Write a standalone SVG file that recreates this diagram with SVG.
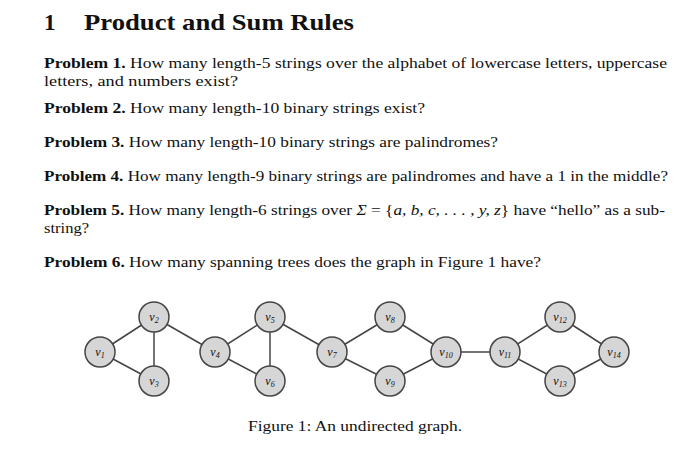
<svg xmlns="http://www.w3.org/2000/svg" width="700" height="463" viewBox="0 0 700 463">
<style>
text{font-family:"Liberation Serif","DejaVu Serif",serif;fill:#111}
.p{font-size:15px}
.b{font-weight:bold}
.n circle{fill:#d6d6d6;stroke:#444;stroke-width:1.5}
.n text{font-size:12px;font-style:italic;text-anchor:middle}
.e line{stroke:#444;stroke-width:1.5}
</style>
<rect width="700" height="463" fill="#fff"/>
<text x="44" y="30" font-size="23" class="b">1</text>
<text x="84" y="30" font-size="23" class="b" textLength="270" lengthAdjust="spacingAndGlyphs">Product and Sum Rules</text>
<text x="44" y="68" class="p" textLength="623" lengthAdjust="spacingAndGlyphs"><tspan class="b">Problem 1.</tspan> How many length-5 strings over the alphabet of lowercase letters, uppercase</text>
<text x="44" y="86" class="p" textLength="194" lengthAdjust="spacingAndGlyphs">letters, and numbers exist?</text>
<text x="44" y="113" class="p" textLength="381" lengthAdjust="spacingAndGlyphs"><tspan class="b">Problem 2.</tspan> How many length-10 binary strings exist?</text>
<text x="44" y="147" class="p" textLength="454" lengthAdjust="spacingAndGlyphs"><tspan class="b">Problem 3.</tspan> How many length-10 binary strings are palindromes?</text>
<text x="44" y="181" class="p" textLength="624" lengthAdjust="spacingAndGlyphs"><tspan class="b">Problem 4.</tspan> How many length-9 binary strings are palindromes and have a 1 in the middle?</text>
<text x="44" y="215" class="p" textLength="621" lengthAdjust="spacingAndGlyphs"><tspan class="b">Problem 5.</tspan> How many length-6 strings over <tspan font-style="italic">Σ</tspan> = {<tspan font-style="italic">a, b, c, . . . , y, z</tspan>} have “hello” as a sub-</text>
<text x="44" y="233" class="p" textLength="45" lengthAdjust="spacingAndGlyphs">string?</text>
<text x="44" y="267" class="p" textLength="497" lengthAdjust="spacingAndGlyphs"><tspan class="b">Problem 6.</tspan> How many spanning trees does the graph in Figure 1 have?</text>
<g class="e">
<line x1="100" y1="352" x2="154" y2="317"/><line x1="100" y1="352" x2="154" y2="381"/><line x1="154" y1="317" x2="154" y2="381"/>
<line x1="154" y1="317" x2="215" y2="352"/>
<line x1="215" y1="352" x2="270" y2="317"/><line x1="215" y1="352" x2="270" y2="381"/><line x1="270" y1="317" x2="270" y2="381"/>
<line x1="270" y1="317" x2="332" y2="352"/>
<line x1="332" y1="352" x2="390" y2="317"/><line x1="332" y1="352" x2="390" y2="381"/>
<line x1="390" y1="317" x2="446" y2="352"/><line x1="390" y1="381" x2="446" y2="352"/>
<line x1="446" y1="352" x2="505" y2="352"/>
<line x1="505" y1="352" x2="560" y2="317"/><line x1="505" y1="352" x2="560" y2="381"/>
<line x1="560" y1="317" x2="614" y2="352"/><line x1="560" y1="381" x2="614" y2="352"/>
</g>
<g id="v1" class="n"><circle cx="100" cy="352" r="15"/><text x="100" y="356">v<tspan font-size="8" dy="2">1</tspan></text></g>
<g id="v2" class="n"><circle cx="154" cy="317" r="15"/><text x="154" y="321">v<tspan font-size="8" dy="2">2</tspan></text></g>
<g id="v3" class="n"><circle cx="154" cy="381" r="15"/><text x="154" y="385">v<tspan font-size="8" dy="2">3</tspan></text></g>
<g id="v4" class="n"><circle cx="215" cy="352" r="15"/><text x="215" y="356">v<tspan font-size="8" dy="2">4</tspan></text></g>
<g id="v5" class="n"><circle cx="270" cy="317" r="15"/><text x="270" y="321">v<tspan font-size="8" dy="2">5</tspan></text></g>
<g id="v6" class="n"><circle cx="270" cy="381" r="15"/><text x="270" y="385">v<tspan font-size="8" dy="2">6</tspan></text></g>
<g id="v7" class="n"><circle cx="332" cy="352" r="15"/><text x="332" y="356">v<tspan font-size="8" dy="2">7</tspan></text></g>
<g id="v8" class="n"><circle cx="390" cy="317" r="15"/><text x="390" y="321">v<tspan font-size="8" dy="2">8</tspan></text></g>
<g id="v9" class="n"><circle cx="390" cy="381" r="15"/><text x="390" y="385">v<tspan font-size="8" dy="2">9</tspan></text></g>
<g id="v10" class="n"><circle cx="446" cy="352" r="15"/><text x="446" y="356">v<tspan font-size="8" dy="2">10</tspan></text></g>
<g id="v11" class="n"><circle cx="505" cy="352" r="15"/><text x="505" y="356">v<tspan font-size="8" dy="2">11</tspan></text></g>
<g id="v12" class="n"><circle cx="560" cy="317" r="15"/><text x="560" y="321">v<tspan font-size="8" dy="2">12</tspan></text></g>
<g id="v13" class="n"><circle cx="560" cy="381" r="15"/><text x="560" y="385">v<tspan font-size="8" dy="2">13</tspan></text></g>
<g id="v14" class="n"><circle cx="614" cy="352" r="15"/><text x="614" y="356">v<tspan font-size="8" dy="2">14</tspan></text></g>
<text x="248" y="431" class="p" textLength="214" lengthAdjust="spacingAndGlyphs">Figure 1: An undirected graph.</text>
</svg>
